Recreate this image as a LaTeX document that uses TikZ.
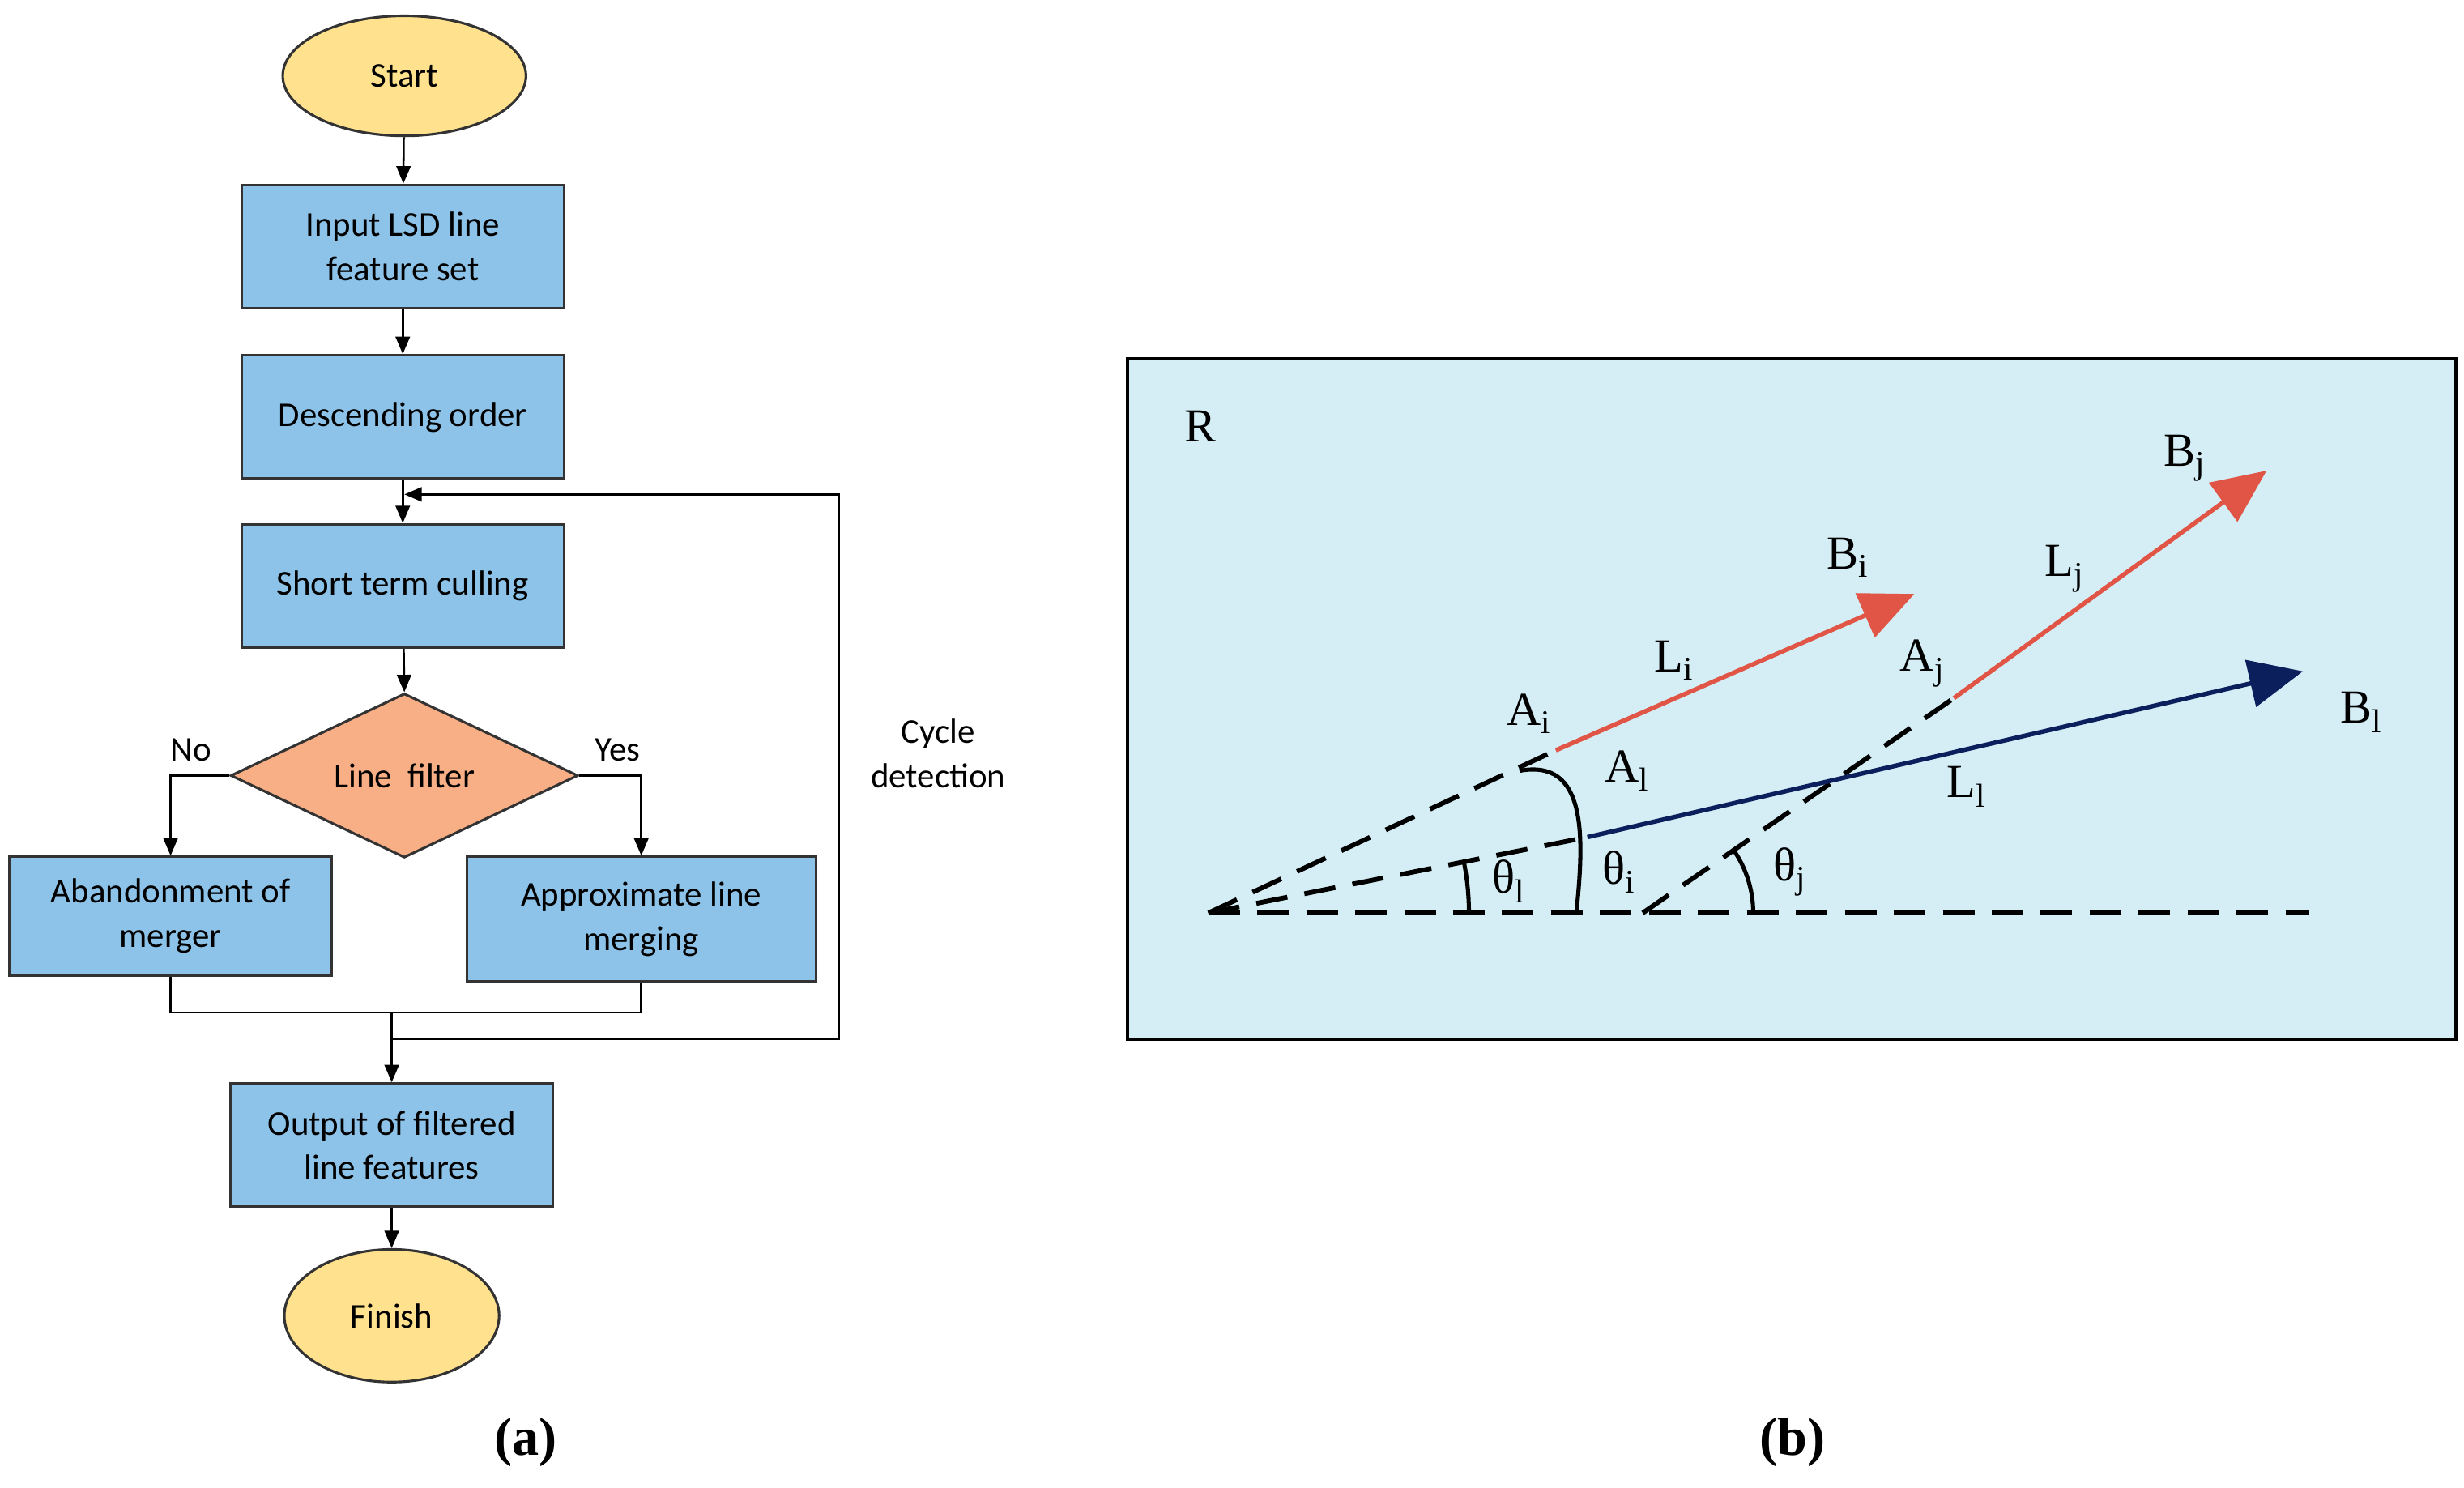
\documentclass[tikz,border=0pt]{standalone}
\usepackage{fontspec}
\setmainfont{Carlito}
\newfontfamily\tms{Liberation Serif}
\usetikzlibrary{shapes.geometric,arrows.meta}
\definecolor{boxc}{HTML}{8DC3E8}
\definecolor{ellc}{HTML}{FFE18E}
\definecolor{diac}{HTML}{F8AF85}
\definecolor{panel}{HTML}{D5EEF5}
\definecolor{redc}{HTML}{E05545}
\definecolor{bluec}{HTML}{0A1F5C}
\begin{document}
\begin{tikzpicture}[x=1pt,y=-1pt,
  txt/.style={font=\fontsize{22}{28}\selectfont, align=center},
  box/.style={txt, draw=black!80, line width=1.6pt, fill=boxc, inner sep=0pt},
  ell/.style={txt, ellipse, draw=black!80, line width=1.6pt, fill=ellc, inner sep=0pt},
  arr/.style={-{Triangle[length=11,width=9]}, line width=1.3pt},
  ln/.style={line width=1.3pt},
  mt/.style={font=\tms\fontsize{30}{34}\selectfont, inner sep=0pt},
  dsh/.style={line width=3pt, dash pattern=on 20pt off 11pt},
  ang/.style={line width=2.6pt},
  big/.style={-{Triangle[length=34,width=30]}, line width=2.8pt}]
\useasboundingbox (0,0) rectangle (1560,942);
% flowchart
\node[ell, minimum width=154, minimum height=76] (start) at (256,48) {Start};
\node[box, minimum width=204, minimum height=78] (b1) at (255,156) {Input LSD line\\feature set};
\node[box, minimum width=204, minimum height=78] (b2) at (255,264) {Descending order};
\node[box, minimum width=204, minimum height=78] (b3) at (255,371) {Short term culling};
\node[txt, diamond, draw=black!80, line width=1.6pt, fill=diac, aspect=2.1, minimum width=220, minimum height=104, inner sep=0pt] (d) at (256,491) {Line\ \ filter};
\node[box, minimum width=204, minimum height=75] (b4) at (108,580) {Abandonment of\\merger};
\node[box, minimum width=221, minimum height=79] (b5) at (406,582) {Approximate line\\merging};
\node[box, minimum width=204, minimum height=78] (b6) at (248,725) {Output of filtered\\line features};
\node[ell, minimum width=136, minimum height=84] (fin) at (248,833) {Finish};
\node[txt] (no) at (121,475) {No};
\node[txt] (yes) at (391,475) {Yes};
\node[txt] (cyc) at (594,477) {Cycle\\detection};
\coordinate (m) at (248,641);
\coordinate (lp) at (248,658);
\coordinate (top) at (256,313);
\draw[arr] (start) -- (b1);
\draw[arr] (b1) -- (b2);
\draw[arr] (b2) -- (b3);
\draw[arr] (b3) -- (d.north);
\draw[arr] (d.west) -| (b4.north);
\draw[arr] (d.east) -| (b5.north);
\draw[ln] (b4.south) |- (m) -| (b5.south);
\draw[arr] (m) -- (b6.north);
\draw[arr] (lp) -- (531,658) -- (531,313) -- (top);
\draw[arr] (b6) -- (fin);
\node[font=\tms\bfseries\fontsize{34}{40}\selectfont] (la) at (333,913) {(a)};
\node[font=\tms\bfseries\fontsize{34}{40}\selectfont] (lb) at (1135,913) {(b)};
% panel b
\node[draw=black, line width=2.2pt, fill=panel, minimum width=841, minimum height=431, inner sep=0pt] (pan) at (1134.5,442.5) {};
\node[mt] (R) at (760,270) {R};
\coordinate (O) at (765,578);
\coordinate (E) at (1462,578);
\coordinate (Ai) at (985,475);
\coordinate (Al) at (1005,530);
\coordinate (Oj) at (1040,578);
\coordinate (Aj) at (1237,442);
\coordinate (Bi) at (1212,376);
\coordinate (Bj) at (1435,298);
\coordinate (Bl) at (1458,425);
\draw[dsh] (O) -- (E);
\draw[dsh] (O) -- (Ai);
\draw[dsh] (O) -- (Al);
\draw[dsh] (Oj) -- (Aj);
\draw[big, redc] (Ai) -- (Bi);
\draw[big, redc] (Aj) -- (Bj);
\draw[big, bluec] (Al) -- (Bl);
\draw[ang] (O) ++(165,0) arc[start angle=0, end angle=-11.3, radius=165];
\draw[ang] (998,578) .. controls (1003,530) and (1005,480) .. (962,488);
\draw[ang] (Oj) ++(70,0) arc[start angle=0, end angle=-34.6, radius=70];
\node[mt] (tl) at (955,558) {θ\textsubscript{l}};
\node[mt] (ti) at (1025,552) {θ\textsubscript{i}};
\node[mt] (tj) at (1133,552) {θ\textsubscript{j}};
\node[mt] (lAi) at (968,452) {A\textsubscript{i}};
\node[mt] (lAl) at (1030,488) {A\textsubscript{l}};
\node[mt] (lLi) at (1060,418) {L\textsubscript{i}};
\node[mt] (lBi) at (1170,353) {B\textsubscript{i}};
\node[mt] (lAj) at (1217,420) {A\textsubscript{j}};
\node[mt] (lLj) at (1307,360) {L\textsubscript{j}};
\node[mt] (lBj) at (1383,290) {B\textsubscript{j}};
\node[mt] (lBl) at (1495,451) {B\textsubscript{l}};
\node[mt] (lLl) at (1245,498) {L\textsubscript{l}};
\end{tikzpicture}
\end{document}
